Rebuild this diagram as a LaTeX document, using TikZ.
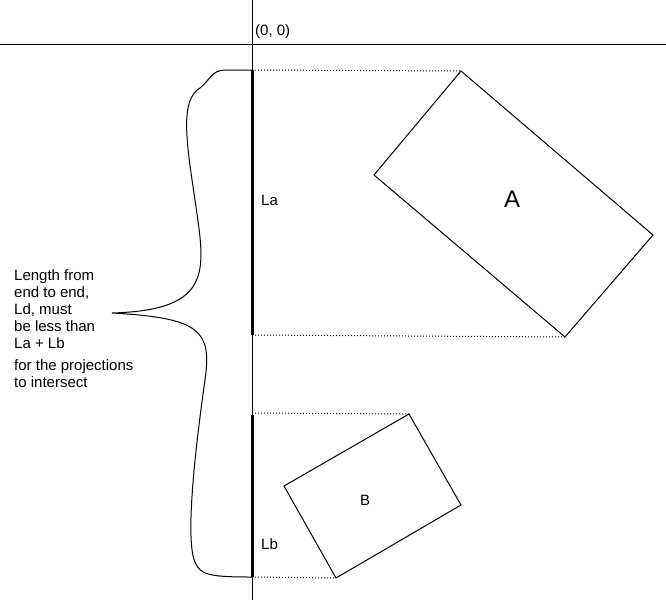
\documentclass[tikz,border=0pt]{standalone}
\usepackage{fontspec}
\setmainfont{Liberation Sans}
\begin{document}
\begin{tikzpicture}[x=1pt,y=-1pt,
  rect/.style={draw,line width=1pt},
  proj/.style={dotted,line width=1pt},
  bar/.style={line width=3pt},
  lbl/.style={font=\fontsize{15}{17}\selectfont,anchor=west,inner sep=0}]
\useasboundingbox (0,0) rectangle (666,600);
\draw (0,44) -- (666,44);
\draw (252,0) -- (252,600);
\node[lbl] (o) at (255,32) {(0, 0)};
% A
\coordinate (a1) at (461,71); \coordinate (a2) at (653,235);
\coordinate (a3) at (565,337); \coordinate (a4) at (374,175);
\draw[rect] (a1) -- (a2) -- (a3) -- (a4) -- cycle;
\coordinate (pa1) at (252,70); \coordinate (pa2) at (252,335);
\draw[proj] (pa1) -- (a1); \draw[proj] (pa2) -- (a3);
\draw[bar] (pa1) -- (pa2);
\node[lbl] (la) at (261,200) {La};
\node[font=\fontsize{24}{26}\selectfont] (A) at (512,199) {A};
% B
\coordinate (b1) at (409,414); \coordinate (b2) at (461,505);
\coordinate (b3) at (336,578); \coordinate (b4) at (284,486);
\draw[rect] (b1) -- (b2) -- (b3) -- (b4) -- cycle;
\coordinate (pb1) at (252,413); \coordinate (pb2) at (252,577);
\draw[proj] (pb1) -- (b1); \draw[proj] (pb2) -- (b3);
\draw[bar] (252,415) -- (pb2);
\node[lbl] (lb) at (261,544) {Lb};
\node[font=\fontsize{15}{17}\selectfont] (B) at (365,500) {B};
% brace
\coordinate (tip) at (112,313);
\draw[line width=1pt] (pa1) -- (225,70) .. controls (212,70) and (210,80) .. (200,88)
  .. controls (180,100) and (186,140) .. (195,200)
  .. controls (205,270) and (215,310) .. (tip)
  .. controls (200,318) and (212,330) .. (205,380)
  .. controls (195,450) and (185,540) .. (195,562)
  .. controls (200,575) and (210,577) .. (pb2);
\node[lbl,align=left,anchor=north west] (txt) at (14,269) {Length from\\end to end,\\Ld, must\\be less than\\La + Lb\\[5pt]for the projections\\to intersect};
\end{tikzpicture}
\end{document}
